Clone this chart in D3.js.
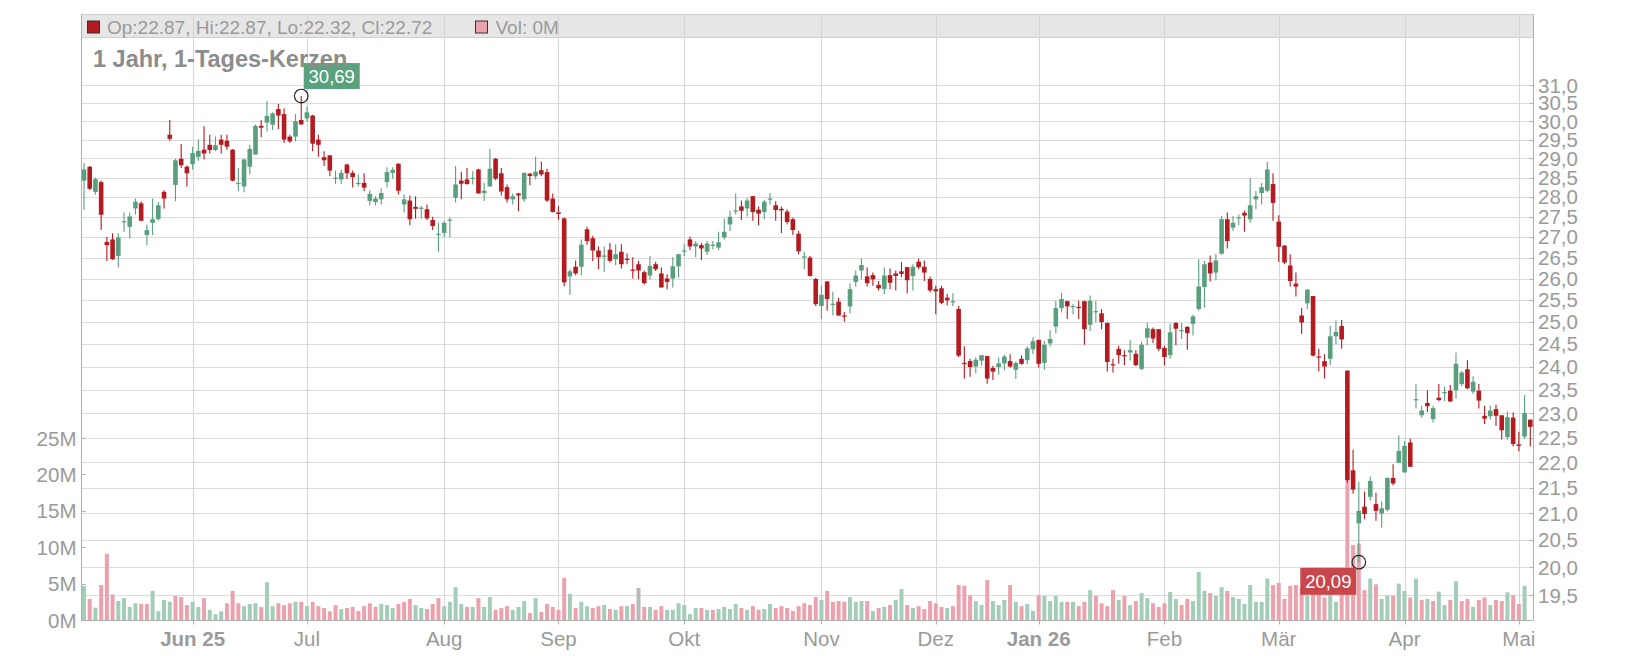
<!DOCTYPE html>
<html><head><meta charset="utf-8">
<script src="https://cdn.jsdelivr.net/npm/d3@7"></script>
<style>html,body{margin:0;padding:0;background:#fff;}svg{display:block;font-family:"Liberation Sans",Arial,Helvetica,sans-serif;}</style>
</head><body>
<svg id="chart" width="1641" height="656"></svg>
<script>
const open = [28.42,28.78,28.13,28.38,26.88,26.94,26.54,27.37,27.25,27.71,
27.84,27.05,27.35,27.44,28.13,29.63,28.31,28.99,28.78,28.85,
29.04,29.23,29.36,29.22,29.50,29.47,29.23,28.33,28.27,28.78,
29.10,29.87,29.96,29.90,30.33,30.19,29.58,29.58,30.03,30.07,
30.15,29.50,29.03,29.08,28.48,28.45,28.84,28.62,28.33,28.36,
27.90,27.87,27.94,28.38,28.62,28.86,27.81,27.91,27.75,27.71,
27.69,27.42,27.05,27.10,27.41,27.98,28.42,28.45,28.47,28.71,
28.10,28.27,28.99,28.61,28.25,27.94,28.09,27.94,28.60,28.53,
28.69,28.64,27.96,27.61,27.46,26.05,26.28,26.28,27.19,26.97,
26.67,26.52,26.69,26.46,26.64,26.47,26.21,26.34,26.15,26.07,
26.34,26.12,26.00,26.00,26.29,26.65,26.94,26.77,26.80,26.64,
26.79,26.74,26.99,27.31,27.64,27.76,27.71,28.02,27.68,27.62,
27.94,27.79,27.70,27.63,27.44,27.08,26.51,26.50,25.99,25.36,
25.93,25.39,25.46,25.14,25.35,25.92,26.19,26.05,26.08,25.85,
25.75,26.08,26.12,26.17,26.27,26.06,26.40,26.28,25.99,25.75,
25.77,25.55,25.45,25.29,24.08,24.12,24.00,24.13,24.23,23.97,
23.99,24.07,24.12,23.93,24.17,24.14,24.38,24.59,24.08,24.51,
24.89,25.31,25.47,25.34,25.34,25.47,24.93,25.22,25.19,24.97,
24.05,24.39,24.25,24.31,24.28,23.95,24.64,24.83,24.83,24.41,
24.25,24.97,24.79,24.88,24.95,25.29,25.80,26.38,26.14,26.59,
27.44,27.23,27.47,27.60,27.44,27.94,28.10,28.16,28.33,27.38,
26.79,26.31,25.88,25.14,25.42,25.59,24.22,24.12,24.17,24.67,
24.90,23.91,21.84,20.81,21.13,21.32,21.18,21.00,21.07,21.69,
21.99,21.80,22.40,23.28,22.96,23.22,22.88,23.33,23.43,23.48,
23.49,23.62,23.94,23.46,23.48,22.95,22.94,23.09,22.96,22.51,
22.91,22.36,22.52,22.87];
const high = [28.88,28.80,28.50,28.42,27.00,27.09,27.09,27.61,27.61,27.96,
27.89,27.31,27.96,27.87,28.17,30.03,28.99,29.38,28.81,29.31,
29.50,29.86,29.63,29.58,29.63,29.63,29.25,28.75,28.99,29.36,
29.90,30.03,30.55,30.24,30.47,30.35,29.63,30.19,30.69,30.39,
30.17,29.63,29.19,29.09,28.68,28.71,28.86,28.68,28.58,28.61,
28.17,28.02,28.22,28.77,28.77,28.87,28.06,28.04,28.02,27.77,
27.81,27.50,27.35,27.40,27.48,28.80,28.65,28.75,28.66,28.73,
28.36,29.25,29.01,28.75,28.32,28.09,28.10,28.63,28.62,29.05,
28.92,28.73,28.09,27.77,27.48,26.22,26.43,26.94,27.25,27.03,
26.77,26.77,26.85,26.82,26.82,26.60,26.51,26.42,26.19,26.54,
26.40,26.26,26.10,26.51,26.58,26.82,27.01,26.90,26.86,26.90,
26.90,27.13,27.46,27.65,28.09,27.91,27.98,28.03,27.76,27.93,
28.10,27.89,27.76,27.68,27.48,27.15,26.64,26.54,26.01,25.83,
25.94,25.69,25.55,25.22,25.88,26.19,26.48,26.26,26.14,25.94,
26.26,26.24,26.19,26.39,26.28,26.34,26.48,26.43,26.05,25.83,
25.83,25.64,25.66,25.36,24.45,24.17,24.20,24.25,24.23,24.02,
24.20,24.26,24.27,24.11,24.25,24.45,24.65,24.59,24.56,24.81,
25.48,25.66,25.48,25.40,25.48,25.48,25.60,25.48,25.29,24.98,
24.17,24.46,24.36,24.58,24.36,24.54,24.97,24.87,24.83,24.46,
24.96,24.99,24.97,24.90,25.16,26.46,26.42,26.55,26.59,27.52,
27.61,27.52,27.56,27.66,28.48,28.15,28.36,28.91,28.61,27.54,
26.80,26.58,26.14,25.31,25.74,25.59,24.39,24.27,24.90,25.03,
25.04,23.92,22.25,21.61,21.42,21.72,21.40,21.23,21.70,21.96,
22.54,22.43,22.48,23.62,23.16,23.49,23.16,23.62,23.57,23.60,
24.31,23.91,24.14,23.79,23.62,23.16,23.16,23.18,22.96,23.04,
23.02,22.62,23.39,22.87];
const low = [27.67,28.18,28.06,27.17,26.42,26.44,26.26,27.12,26.96,27.56,
27.40,26.80,27.05,27.40,27.71,29.47,27.89,28.75,28.27,28.71,
28.94,28.97,29.13,29.19,29.13,29.23,28.40,28.15,28.12,28.58,
29.10,29.56,29.72,29.76,29.78,29.41,29.41,29.45,29.90,29.98,
29.19,29.04,28.80,28.53,28.33,28.33,28.47,28.24,28.27,28.15,
27.79,27.79,27.81,28.24,28.47,28.06,27.61,27.29,27.45,27.45,
27.42,27.17,26.63,27.00,27.00,27.86,27.94,28.32,28.32,28.09,
27.90,28.27,28.43,28.04,27.86,27.81,27.64,27.87,28.30,28.45,
28.53,27.87,27.61,27.42,25.82,25.62,26.08,26.08,26.81,26.42,
26.22,26.16,26.38,26.32,26.24,26.34,26.00,25.98,25.86,25.98,
26.18,25.78,25.75,25.79,26.02,26.54,26.68,26.51,26.44,26.56,
26.70,26.68,26.94,27.15,27.56,27.42,27.51,27.40,27.29,27.44,
27.81,27.40,27.10,27.31,27.05,26.58,26.22,26.05,25.36,25.06,
25.25,25.14,25.13,25.00,25.19,25.81,25.98,25.81,25.83,25.72,
25.63,25.75,25.72,26.03,25.65,25.72,26.22,25.94,25.67,25.17,
25.40,25.37,25.35,24.21,23.74,23.78,23.85,24.02,23.63,23.71,
23.83,23.92,23.98,23.73,24.04,24.05,24.27,23.98,23.93,24.44,
24.74,25.21,25.06,25.17,25.06,24.48,24.79,24.98,24.83,23.89,
23.87,24.06,24.03,24.14,24.01,23.92,24.47,24.52,24.34,24.03,
24.17,24.47,24.61,24.37,24.69,25.25,25.32,25.93,25.96,26.57,
26.72,27.15,27.29,27.13,27.35,27.69,27.81,28.12,27.40,26.40,
26.34,25.81,25.58,24.72,25.29,24.22,23.89,23.74,24.03,24.50,
24.39,21.60,21.38,20.09,20.89,21.25,20.86,20.73,21.04,21.54,
21.98,21.79,21.91,23.10,22.91,23.03,22.81,23.26,23.26,23.24,
23.31,23.58,23.51,23.41,23.10,22.78,22.87,22.74,22.46,22.46,
22.32,22.22,22.47,22.32];
const close = [28.71,28.21,28.46,27.55,26.80,26.46,26.99,27.39,27.51,27.88,
27.40,27.17,27.44,27.79,27.96,29.52,28.95,28.82,28.61,29.14,
29.20,29.13,29.22,29.35,29.36,29.31,28.42,28.36,28.97,29.25,
29.87,29.82,30.14,30.21,30.15,29.50,29.45,30.00,29.91,30.24,
29.39,29.36,28.95,28.68,28.50,28.62,28.61,28.51,28.36,28.24,
28.08,27.96,28.10,28.64,28.70,28.16,27.94,27.44,27.70,27.73,
27.46,27.27,27.08,27.35,27.43,28.32,28.34,28.33,28.49,28.09,
28.16,28.73,28.47,28.14,27.94,28.02,28.04,28.62,28.54,28.65,
28.58,27.91,27.62,27.57,25.91,26.17,26.12,26.81,26.90,26.67,
26.51,26.55,26.42,26.58,26.34,26.45,26.19,26.19,25.89,26.30,
26.22,25.79,25.92,26.29,26.58,26.67,26.77,26.84,26.72,26.84,
26.81,26.87,27.13,27.50,27.66,27.65,27.91,27.62,27.58,27.88,
27.96,27.67,27.66,27.37,27.17,26.65,26.53,26.06,25.40,25.62,
25.52,25.41,25.14,25.12,25.75,26.07,26.32,25.89,25.98,25.77,
26.07,25.90,26.06,26.11,25.96,26.28,26.27,26.14,25.72,25.70,
25.43,25.49,25.47,24.24,24.06,23.99,24.15,24.25,23.74,23.89,
24.07,24.22,24.00,24.08,24.06,24.40,24.56,24.06,24.48,24.61,
25.31,25.52,25.35,25.36,25.32,24.83,25.48,25.24,24.99,24.10,
24.03,24.25,24.23,24.36,24.03,24.48,24.85,24.62,24.39,24.21,
24.76,24.84,24.81,24.74,25.12,25.81,26.34,26.12,26.43,27.44,
26.90,27.35,27.49,27.53,27.79,28.02,28.25,28.71,27.85,26.76,
26.38,25.94,25.81,24.98,25.74,24.24,24.20,24.00,24.67,24.77,
24.60,21.65,21.46,21.05,20.99,21.63,21.05,21.10,21.69,21.58,
22.23,22.33,21.91,23.30,23.06,23.15,23.11,23.28,23.45,23.25,
24.06,23.87,23.53,23.67,23.27,22.89,23.06,22.95,22.65,22.92,
22.37,22.33,23.01,22.72];
// volume in millions
const volume = [4.7,2.9,1.7,4.8,9.1,3.5,2.6,3.0,1.8,2.3,
2.2,2.2,4.0,1.2,2.75,2.5,3.3,3.15,2.05,2.5,
1.8,3.0,1.4,0.8,1.2,2.3,4.0,2.3,1.9,2.2,
2.3,1.8,5.2,1.9,2.3,2.05,2.3,2.5,2.5,1.9,
2.5,1.9,1.65,1.2,2.05,1.5,1.65,1.8,1.25,1.9,
2.3,1.8,2.2,2.05,1.65,2.2,2.5,2.9,2.05,1.65,
1.5,2.2,3.0,1.9,2.5,4.5,2.2,1.8,1.8,3.0,
1.8,3.15,1.4,1.65,1.9,1.4,1.8,2.6,0.95,3.0,
1.1,2.2,1.8,1.4,5.8,3.6,1.65,2.5,1.9,1.65,
1.9,2.05,1.5,1.4,1.9,1.9,2.2,4.4,1.8,1.8,
1.4,1.9,1.4,1.4,2.3,2.05,0.8,1.65,1.65,1.4,
1.4,1.5,1.8,1.5,2.2,1.65,1.4,1.9,1.4,1.5,
2.2,1.65,1.9,1.65,1.25,1.9,2.3,2.05,3.15,2.75,
4.0,2.5,2.6,2.5,3.15,2.5,2.6,2.6,1.25,1.65,
1.8,2.05,2.75,4.25,2.05,1.65,1.9,1.5,2.6,2.3,
1.8,1.65,1.9,4.8,4.7,3.4,2.6,2.05,5.5,2.6,
2.05,2.75,4.8,2.5,1.9,2.2,1.25,3.4,3.3,2.6,
3.3,2.5,2.5,2.5,1.9,2.5,4.1,3.3,2.3,1.9,
4.1,2.75,3.3,2.05,2.6,3.7,3.0,2.3,1.8,2.3,
3.85,2.9,2.05,2.9,2.6,6.6,4.0,3.7,3.3,4.5,
4.0,3.15,2.9,2.2,4.8,2.5,2.5,5.7,4.8,5.1,
2.9,4.7,4.8,4.5,3.4,4.8,4.0,3.1,4.5,2.5,
5.4,26,10.3,10.5,4.1,5.7,4.9,2.9,3.35,3.35,
5.0,4.0,3.1,5.7,2.75,2.9,2.6,3.9,2.05,2.75,
5.35,2.6,2.9,1.8,2.75,3.1,2.05,2.75,2.6,3.8,
3.4,2.2,4.7,0];
// first trading day of each month (index into the series) and its label
const monthStartIdx = [19,39,63,83,105,129,149,167,189,209,231,251];
const monthLabels = ["Jun 25","Jul","Aug","Sep","Okt","Nov","Dez","Jan 26","Feb","Mär","Apr","Mai"];
const boldMonthLabels = ["Jun 25","Jan 26"];
const priceTicks = [19.5,20,20.5,21,21.5,22,22.5,23,23.5,24,24.5,25,25.5,26,26.5,27,27.5,28,28.5,29,29.5,30,30.5,31];
const volumeTicks = [0,5,10,15,20,25];
const titleText = "1 Jahr, 1-Tages-Kerzen";

const N = close.length;
const svg = d3.select("#chart");
const plotL = 81.5, plotR = 1533.5, bandTop = 14.5, bandBot = 37.5, baseY = 620.5;
const RED = "#b31b20", GREEN = "#5a9f7d", VRED = "#eba2ad", VGREEN = "#a3cdb8", VGREY = "#b9b9b9";
const GRID = "#dcdcdc", AXIS = "#b0b0b0", TXT = "#9a9a9a";

const x = d3.scaleLinear().domain([0, N - 1]).range([84, 1530.3]);
const y = d3.scaleLog().domain([19.5, 31]).range([595, 85]);
const yv = d3.scaleLinear().domain([0, 25]).range([620, 438]);
const fmtComma = v => d3.format(".1f")(v).replace(".", ",");
const fmtComma2 = v => d3.format(".2f")(v).replace(".", ",");

// header band
svg.append("rect").attr("x", plotL).attr("y", bandTop).attr("width", plotR - plotL).attr("height", bandBot - bandTop)
  .attr("fill", "#e6e6e6").attr("stroke", "#cfcfcf").attr("stroke-width", 1);

// horizontal price grid
svg.append("g").selectAll("line").data(priceTicks).join("line")
  .attr("x1", plotL).attr("x2", plotR)
  .attr("y1", d => Math.round(y(d)) + 0.5).attr("y2", d => Math.round(y(d)) + 0.5)
  .attr("stroke", GRID).attr("stroke-width", 1);

// vertical month grid
svg.append("g").selectAll("line").data(monthStartIdx).join("line")
  .attr("x1", d => Math.round(x(d)) + 0.5).attr("x2", d => Math.round(x(d)) + 0.5)
  .attr("y1", bandTop).attr("y2", baseY)
  .attr("stroke", "#d6d6d6").attr("stroke-width", 1);

// axes frame
svg.append("line").attr("x1", plotL).attr("x2", plotL).attr("y1", bandTop).attr("y2", baseY).attr("stroke", AXIS);
svg.append("line").attr("x1", plotR).attr("x2", plotR).attr("y1", bandTop).attr("y2", baseY).attr("stroke", AXIS);
svg.append("line").attr("x1", plotL).attr("x2", plotR).attr("y1", baseY).attr("y2", baseY).attr("stroke", AXIS);

// price axis ticks + labels (right)
const pa = svg.append("g");
pa.selectAll("line").data(priceTicks).join("line")
  .attr("x1", plotR - 4).attr("x2", plotR)
  .attr("y1", d => Math.round(y(d)) + 0.5).attr("y2", d => Math.round(y(d)) + 0.5).attr("stroke", AXIS);
pa.selectAll("text").data(priceTicks).join("text")
  .attr("x", 1538).attr("y", d => y(d) + 7.5)
  .attr("font-size", 20.5).attr("fill", TXT).text(fmtComma);

// volume axis ticks + labels (left)
const va = svg.append("g");
va.selectAll("line").data(volumeTicks).join("line")
  .attr("x1", plotL).attr("x2", plotL + 4)
  .attr("y1", d => Math.round(yv(d)) + 0.5).attr("y2", d => Math.round(yv(d)) + 0.5).attr("stroke", AXIS);
va.selectAll("text").data(volumeTicks).join("text")
  .attr("x", 76.5).attr("y", d => yv(d) + 7.5).attr("text-anchor", "end")
  .attr("font-size", 20.5).attr("fill", TXT).text(d => d + "M");

// x axis ticks + labels
const xa = svg.append("g");
xa.selectAll("line").data(monthStartIdx).join("line")
  .attr("x1", d => Math.round(x(d)) + 0.5).attr("x2", d => Math.round(x(d)) + 0.5)
  .attr("y1", baseY).attr("y2", baseY + 4).attr("stroke", AXIS);
xa.selectAll("text").data(monthStartIdx).join("text")
  .attr("x", d => x(d)).attr("y", 645.5).attr("text-anchor", "middle")
  .attr("font-size", 20.5).attr("fill", TXT)
  .attr("font-weight", (d, i) => boldMonthLabels.includes(monthLabels[i]) ? "bold" : "normal")
  .text((d, i) => monthLabels[i]);

// volume bars
const idx = d3.range(N);
const volColor = i => {
  if (i === 0) return VGREEN;
  const diff = close[i] - close[i - 1];
  if (Math.abs(diff) < 0.001) return VGREY;
  return diff > 0 ? VGREEN : VRED;
};
svg.append("g").selectAll("rect").data(idx.filter(i => volume[i] > 0)).join("rect")
  .attr("x", i => x(i) - 2).attr("width", 4)
  .attr("y", i => yv(volume[i])).attr("height", i => 620 - yv(volume[i]))
  .attr("fill", volColor);

// candles
const cg = svg.append("g");
const col = i => close[i] >= open[i] ? GREEN : RED;
cg.selectAll("line").data(idx).join("line")
  .attr("x1", i => x(i)).attr("x2", i => x(i))
  .attr("y1", i => y(high[i])).attr("y2", i => y(low[i]))
  .attr("stroke", col).attr("stroke-width", 1.1);
cg.selectAll("rect").data(idx).join("rect")
  .attr("x", i => x(i) - 2.3).attr("width", 4.6)
  .attr("y", i => y(Math.max(open[i], close[i])))
  .attr("height", i => Math.max(1.2, Math.abs(y(open[i]) - y(close[i]))))
  .attr("fill", col);

// max / min markers
const iMax = d3.maxIndex(high), iMin = d3.minIndex(low);
const mx = x(iMax), my = y(high[iMax]);
svg.append("circle").attr("cx", mx).attr("cy", my).attr("r", 6.8).attr("fill", "none").attr("stroke", "#222").attr("stroke-width", 1.2);
svg.append("rect").attr("x", mx + 2.5).attr("y", my - 33).attr("width", 56).attr("height", 26).attr("fill", "#5aa27d");
svg.append("text").attr("x", mx + 30.5).attr("y", my - 13.5).attr("text-anchor", "middle")
  .attr("font-size", 18.5).attr("fill", "#fff").text(fmtComma2(high[iMax]));

const nx = x(iMin), ny = y(low[iMin]);
svg.append("circle").attr("cx", nx).attr("cy", ny).attr("r", 6.8).attr("fill", "none").attr("stroke", "#222").attr("stroke-width", 1.2);
svg.append("rect").attr("x", nx - 58.5).attr("y", ny + 5.6).attr("width", 56).attr("height", 27).attr("fill", "#c9474a");
svg.append("text").attr("x", nx - 30.5).attr("y", ny + 25.5).attr("text-anchor", "middle")
  .attr("font-size", 18.5).attr("fill", "#fff").text(fmtComma2(low[iMin]));

// header legend
const last = N - 1;
svg.append("rect").attr("x", 87.5).attr("y", 21).attr("width", 12).attr("height", 12)
  .attr("fill", close[last] >= open[last] ? GREEN : RED).attr("stroke", "#333").attr("stroke-width", 1);
svg.append("text").attr("x", 107).attr("y", 34).attr("font-size", 19).attr("fill", TXT)
  .text(`Op:${open[last].toFixed(2)}, Hi:${high[last].toFixed(2)}, Lo:${low[last].toFixed(2)}, Cl:${close[last].toFixed(2)}`);
svg.append("rect").attr("x", 475.5).attr("y", 21).attr("width", 12).attr("height", 12)
  .attr("fill", VRED).attr("stroke", "#333").attr("stroke-width", 1);
svg.append("text").attr("x", 495.5).attr("y", 34).attr("font-size", 19).attr("fill", TXT)
  .text(`Vol: ${Math.round(volume[last])}M`);

// title
svg.append("text").attr("x", 93).attr("y", 66.5).attr("font-size", 23.5).attr("font-weight", "bold")
  .attr("fill", "#8c8c8c").text(titleText);
</script>
</body></html>
